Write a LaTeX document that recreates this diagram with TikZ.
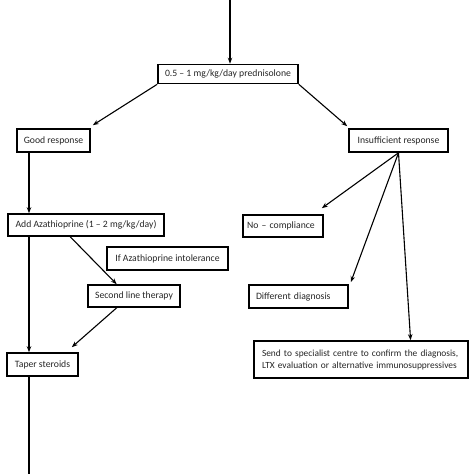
\documentclass[tikz,border=0pt]{standalone}
\usepackage{fontspec}
\setmainfont{Carlito}
\usetikzlibrary{arrows.meta,calc}
\begin{document}
\begin{tikzpicture}[x=1pt,y=-1pt,
  box/.style={draw=black,line width=1.6pt,rectangle,inner sep=0pt,font=\fontsize{9.7}{12}\selectfont,text=black!85},
  arr/.style={line width=1.1pt,-{Stealth[length=6pt,width=4.5pt]}},
  ln/.style={line width=1.1pt}]
\useasboundingbox (0,0) rectangle (474,474);
\fill[white] (0,0) rectangle (474,474);
\node[box,minimum width=140pt,minimum height=19pt] (main) at (228,74) {0.5 – 1 mg/kg/day prednisolone};
\node[box,minimum width=73pt,minimum height=23pt] (good) at (53.5,140.5) {Good response};
\node[box,minimum width=156pt,minimum height=22pt] (add) at (86,225) {Add Azathioprine (1 – 2 mg/kg/day)};
\node[box,minimum width=121pt,minimum height=23pt] (intol) at (167.5,258.5) {If Azathioprine intolerance};
\node[box,minimum width=92pt,minimum height=22pt] (second) at (134,296) {Second line therapy};
\node[box,minimum width=71pt,minimum height=23pt] (taper) at (42.5,364.5) {Taper steroids};
\node[box,minimum width=99pt,minimum height=23pt] (insuff) at (398.5,140.5) {Insufficient response};
\node[box,minimum width=80pt,minimum height=22pt,text width=72pt,align=left] (nocomp) at (283,226) {No – compliance};
\node[box,minimum width=99pt,minimum height=23pt,text width=85pt,align=left] (diff) at (298.5,296.5) {Different diagnosis};
\node[box,minimum width=214pt,minimum height=37pt,text width=198pt,align=left,font=\fontsize{9.4}{12}\selectfont] (send) at (361,359.5) {\hbox{Send to specialist centre to confirm the diagnosis,}\\\hbox{LTX evaluation or alternative immunosuppressives}};
\coordinate (top) at (230,0);
\coordinate (lx) at (29,0);
\coordinate (bot) at (29,474);
\draw[arr] (top) -- (top |- main.north);
\draw[arr] (main.south west) -- ($(good.north east)+(2,-3)$);
\draw[arr] (main.south east) -- ($(insuff.north west)+(-1,-2)$);
\draw[arr] (good.south -| lx) -- (add.north -| lx);
\draw[arr] ($(add.south west)!0.4!(add.south east)$) -- ($(second.north west)!0.315!(second.north east)$);
\draw[arr] (add.south -| lx) -- (taper.north -| lx);
\draw[arr] ($(second.south west)!0.315!(second.south east)$) -- ($(taper.north east)+(-7,-5)$);
\draw[ln] (taper.south -| lx) -- (bot);
\draw[arr] (insuff.south) -- ($(nocomp.north east)+(-2,-6)$);
\draw[arr] (insuff.south) -- ($(diff.north east)+(2,-2)$);
\draw[arr] (insuff.south) -- ($(send.north west)!0.73!(send.north east)$);
\end{tikzpicture}
\end{document}
